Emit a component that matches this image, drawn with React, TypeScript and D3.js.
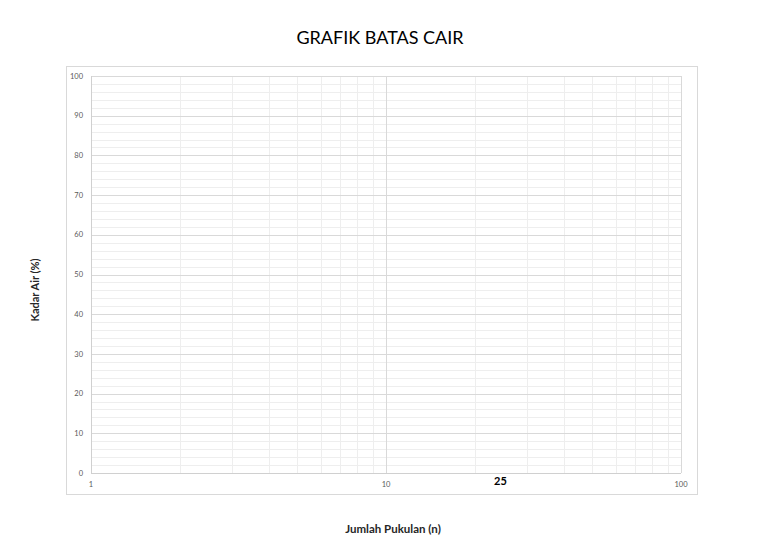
import React from 'react';
import * as d3 from 'd3';

const TITLE = 'GRAFIK BATAS CAIR';
const X_LABEL = 'Jumlah Pukulan (n)';
const Y_LABEL = 'Kadar Air (%)';

const xDomain = [1, 100];
const yDomain = [0, 100];
const xMajorTicks = [1, 10, 100];
const xMinorTicks = [2, 3, 4, 5, 6, 7, 8, 9, 20, 30, 40, 50, 60, 70, 80, 90];
const yMajorTicks = [0, 10, 20, 30, 40, 50, 60, 70, 80, 90, 100];
const markerValues = [25];

const WIDTH = 768;
const HEIGHT = 543;
const FONT = 'Lato, "Open Sans", sans-serif';

const App: React.FC = () => {
  // plot area
  const left = 91, right = 681, top = 76, bottom = 473;

  const x = d3.scaleLog().domain(xDomain).range([left, right]);
  const y = d3.scaleLinear().domain(yDomain).range([bottom, top]);

  const yMinor = y.ticks(50).filter(v => !yMajorTicks.includes(v));

  return (
    <svg
      width={WIDTH}
      height={HEIGHT}
      style={{ position: 'absolute', left: 0, top: 0, background: '#fff' }}
      fontFamily={FONT}
    >
      {/* chart frame */}
      <rect x={66.5} y={66.5} width={631} height={428} fill="#fff" stroke="#d9d9d9" strokeWidth={1} />

      {/* minor grid */}
      {yMinor.map(v => (
        <line key={'ym' + v} x1={left} x2={right} y1={Math.round(y(v)) + 0.5} y2={Math.round(y(v)) + 0.5} stroke="#eeeeee" />
      ))}
      {xMinorTicks.map(v => (
        <line key={'xm' + v} x1={Math.round(x(v)) + 0.5} x2={Math.round(x(v)) + 0.5} y1={top} y2={bottom} stroke="#eeeeee" />
      ))}

      {/* major grid */}
      {yMajorTicks.filter(v => v > 0).map(v => (
        <line key={'yM' + v} x1={left} x2={right} y1={Math.round(y(v)) + 0.5} y2={Math.round(y(v)) + 0.5} stroke="#d9d9d9" />
      ))}
      {xMajorTicks.filter(v => v > 1).map(v => (
        <line key={'xM' + v} x1={Math.round(x(v)) + 0.5} x2={Math.round(x(v)) + 0.5} y1={top} y2={bottom} stroke="#d9d9d9" />
      ))}

      {/* axes */}
      <line x1={left + 0.5} x2={left + 0.5} y1={top} y2={bottom} stroke="#d0d0d0" />
      <line x1={left} x2={right} y1={bottom + 0.5} y2={bottom + 0.5} stroke="#d0d0d0" />

      {/* tick labels */}
      {yMajorTicks.map(v => (
        <text key={'yl' + v} x={83} y={y(v)} dy="0.35em" textAnchor="end" fontSize={7.5} fill="#595959">{v}</text>
      ))}
      {xMajorTicks.map(v => (
        <text key={'xl' + v} x={x(v)} y={487} textAnchor="middle" fontSize={7.5} fill="#595959">{v}</text>
      ))}

      {/* marker label */}
      {markerValues.map(v => (
        <text key={'mk' + v} x={x(v) - 3} y={485} textAnchor="middle" fontSize={11} fontWeight="bold" fill="#000">{v}</text>
      ))}

      {/* titles */}
      <text x={380} y={44} textAnchor="middle" fontSize={18} fill="#000">{TITLE}</text>
      <text x={393} y={533} textAnchor="middle" fontSize={11.5} fontWeight="bold" fill="#262626">{X_LABEL}</text>
      <text transform={`translate(39,${290}) rotate(-90)`} textAnchor="middle" fontSize={11} fontWeight="bold" fill="#262626">{Y_LABEL}</text>
    </svg>
  );
};

export default App;
